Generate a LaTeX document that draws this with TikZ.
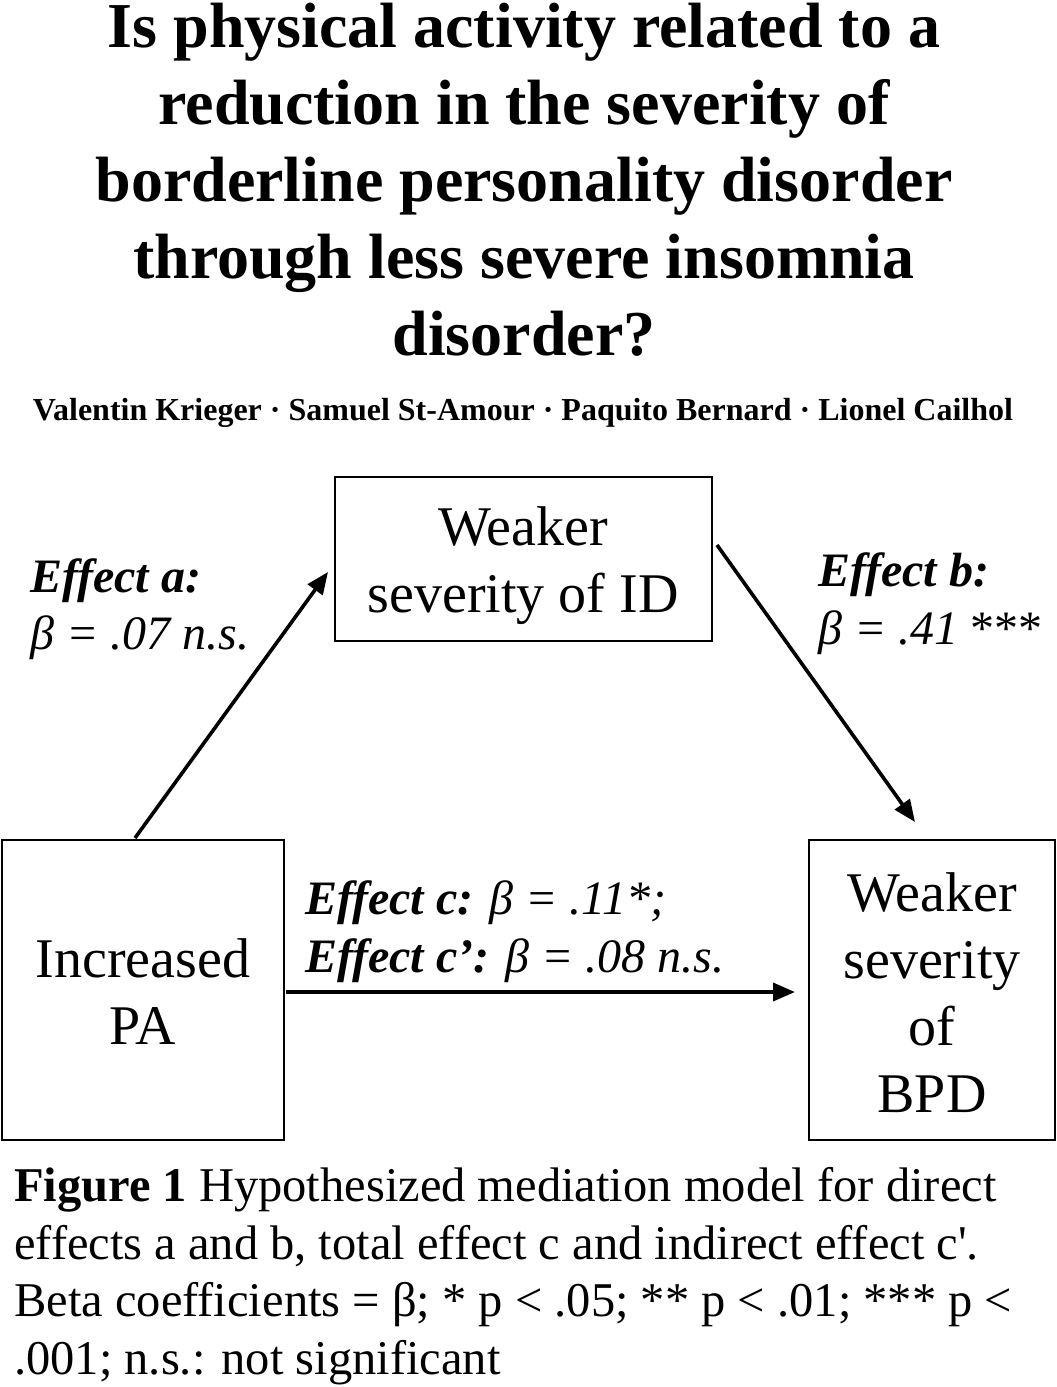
\documentclass[tikz,border=0pt]{standalone}
\usepackage{fontspec}
\setmainfont{Liberation Serif}
\usetikzlibrary{arrows.meta}
\begin{document}
\begin{tikzpicture}[x=1pt,y=-1pt,
  box/.style={draw,line width=2.4pt},
  arr/.style={line width=3.6pt,-{Triangle[length=22pt,width=18pt]}},
  lbl/.style={anchor=west,inner sep=0pt,font=\fontsize{48}{56}\selectfont\itshape},
  boxtxt/.style={inner sep=0pt,font=\fontsize{56}{67}\selectfont,align=center}]
\useasboundingbox (0,0) rectangle (1057,1387);
\node[inner sep=0pt,align=center,font=\fontsize{64}{77}\selectfont\bfseries] (title) at (524,180)
 {Is physical activity related to a\\reduction in the severity of\\borderline personality disorder\\through less severe insomnia\\disorder?};
\node[inner sep=0pt,font=\fontsize{32}{36}\selectfont\bfseries] (auth) at (523,413)
 {Valentin Krieger · Samuel St-Amour · Paquito Bernard · Lionel Cailhol};
\draw[box] (335,477) rectangle (712,641);
\node[boxtxt] (id) at (523,566) {Weaker\\severity of ID};
\draw[box] (2,840) rectangle (284,1140);
\node[boxtxt] (pa) at (143,992) {Increased\\PA};
\draw[box] (809,840) rectangle (1055,1140);
\node[boxtxt] (bpd) at (932,993) {Weaker\\severity\\of\\BPD};
\coordinate (a1) at (135,838); \coordinate (a2) at (328,572);
\coordinate (b1) at (717,545); \coordinate (b2) at (915,822);
\coordinate (c1) at (286,992); \coordinate (c2) at (795,992);
\draw[arr] (a1) -- (a2);
\draw[arr] (b1) -- (b2);
\draw[arr] (c1) -- (c2);
\node[lbl] (ea) at (30,581) {\bfseries Effect a:};
\node[lbl] (ea2) at (30,638) {β = .07 n.s.};
\node[lbl] (eb) at (818,575) {\bfseries Effect b:};
\node[lbl] (eb2) at (818,633) {β = .41 \upshape***};
\node[lbl] (ec) at (305,903) {\textbf{Effect c:} β = .11*;};
\node[lbl] (ec2) at (305,961) {\textbf{Effect c’:} β = .08 n.s.};
\node[anchor=north west,inner sep=0pt,align=left,font=\fontsize{48.5}{57.7}\selectfont] (cap) at (14,1167)
 {\textbf{Figure 1} Hypothesized mediation model for direct\\effects a and b, total effect c and indirect effect c\textquotesingle.\\Beta coefficients = β; * p < .05; ** p < .01; *** p <\\.001; n.s.: not significant};
\end{tikzpicture}
\end{document}
